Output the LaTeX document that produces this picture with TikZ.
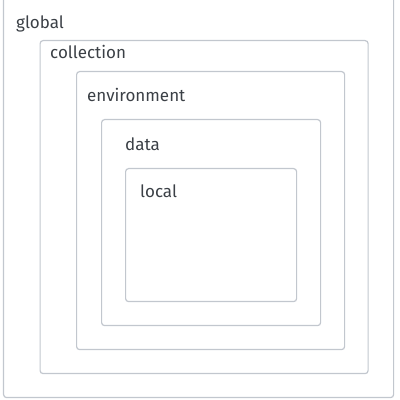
\documentclass[tikz,border=0pt]{standalone}
\usepackage{fontspec}
\setmainfont{Fira Sans}
\usepackage{xcolor}
\definecolor{boxgrey}{HTML}{C2C7CE}
\definecolor{labelgrey}{HTML}{3B4046}
\tikzset{
    scope-box/.style = {draw=boxgrey, thin, line width=1.2pt, rectangle, rounded corners=3pt, anchor=north west, inner sep=0pt},
    scope-label/.style = {text=labelgrey, font=\fontsize{17}{19}\selectfont, anchor=base west, inner sep=0pt},
}

\begin{document}
\begin{tikzpicture}[x=1pt, y=1pt]
\useasboundingbox (0,0) rectangle (400,400);
\node[scope-box, minimum width=390pt, minimum height=402pt] (global) at (3,405) {};
\node[scope-box, minimum width=328pt, minimum height=333pt] (collection) at (39.5,360) {};
\node[scope-box, minimum width=268pt, minimum height=278pt] (environment) at (76,329) {};
\node[scope-box, minimum width=219pt, minimum height=206pt] (data) at (101,281) {};
\node[scope-box, minimum width=171pt, minimum height=133pt] (local) at (125,232) {};
\node[scope-label] (global-title) at ([shift={(13,-33.5)}]global.north west) {global};
\node[scope-label] (collection-title) at ([shift={(10.5,-19)}]collection.north west) {collection};
\node[scope-label] (environment-title) at ([shift={(11,-30.5)}]environment.north west) {environment};
\node[scope-label] (data-title) at ([shift={(24,-32)}]data.north west) {data};
\node[scope-label] (local-title) at ([shift={(15,-30)}]local.north west) {local};
\end{tikzpicture}
\end{document}
